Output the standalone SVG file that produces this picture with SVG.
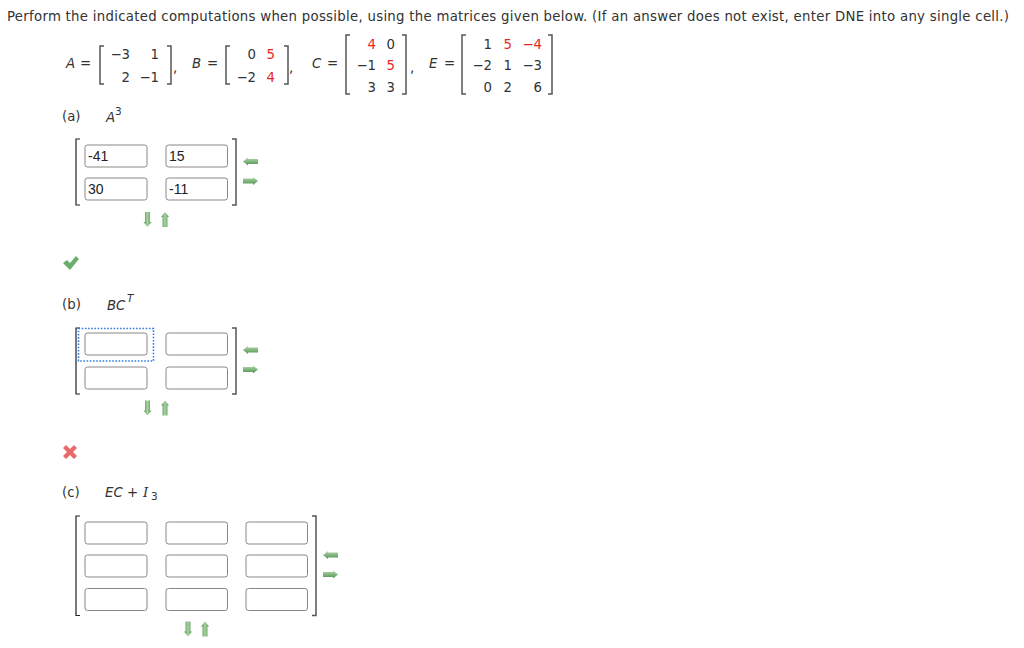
<svg xmlns="http://www.w3.org/2000/svg" width="1024" height="648" viewBox="0 0 1024 648">
<defs>
<linearGradient id="gh" x1="0" y1="0" x2="0" y2="1"><stop offset="0" stop-color="#b5dcae"/><stop offset="1" stop-color="#4f8f50"/></linearGradient>
<linearGradient id="gv" x1="0" y1="0" x2="1" y2="0"><stop offset="0" stop-color="#4f8f50"/><stop offset="0.5" stop-color="#a9d3a0"/><stop offset="1" stop-color="#4f8f50"/></linearGradient>
<path id="al" d="M0 0 L5 -4 L5 -2.500 L15 -2.500 L15 2.500 L5 2.500 L5 4 Z" fill="url(#gh)"/>
<path id="ar" d="M15 0 L10 -4 L10 -2.500 L0 -2.500 L0 2.500 L10 2.500 L10 4 Z" fill="url(#gh)"/>
<path id="ad" d="M0 7.500 L-4 2.500 L-2.500 2.500 L-2.500 -7.500 L2.500 -7.500 L2.500 2.500 L4 2.500 Z" fill="url(#gv)"/>
<path id="au" d="M0 -7.500 L-4 -2.500 L-2.500 -2.500 L-2.500 7.500 L2.500 7.500 L2.500 -2.500 L4 -2.500 Z" fill="url(#gv)"/>
</defs>
<style>
text{font-family:"DejaVu Sans",Verdana,sans-serif;font-size:13.3px;fill:#333}
.e{text-anchor:end}
.i{font-style:italic}
.r{fill:#e5281c}
.v{font-family:"Liberation Sans",Arial,sans-serif;font-size:14px;fill:#222}
.m{font-family:"DejaVu Serif",serif;font-style:italic}
.b{fill:none;stroke:#222;stroke-width:1.2}
.g{fill:none;stroke:#555;stroke-width:1.5}
.box{fill:#fff;stroke:#888;stroke-width:1}
</style>
<rect width="1024" height="648" fill="#fff"/>
<text id="prompt" x="7" y="21" textLength="1002" lengthAdjust="spacing">Perform the indicated computations when possible, using the matrices given below. (If an answer does not exist, enter DNE into any single cell.)</text>

<g id="matrix-A">
<text x="66" y="68" class="i">A</text><text x="80" y="68">=</text>
<path class="g" d="M104 46H100V84H104M167 46H171V84H167"/>
<text x="130" y="59" class="e">−3</text><text x="159" y="59" class="e">1</text>
<text x="130" y="82" class="e">2</text><text x="159" y="82" class="e">−1</text>
<text x="173" y="72">,</text>
</g>
<g id="matrix-B">
<text x="192" y="68" class="i">B</text><text x="207" y="68">=</text>
<path class="g" d="M230 46H226V84H230M284 46H288V84H284"/>
<text x="256" y="59" class="e">0</text><text x="275" y="59" class="e r">5</text>
<text x="256" y="82" class="e">−2</text><text x="275" y="82" class="e r">4</text>
<text x="289" y="72">,</text>
</g>
<g id="matrix-C">
<text x="312" y="68" class="i">C</text><text x="327" y="68">=</text>
<path class="g" d="M350 35H346V94H350M402 35H406V94H402"/>
<text x="376" y="49" class="e r">4</text><text x="395" y="49" class="e">0</text>
<text x="376" y="70" class="e">−1</text><text x="395" y="70" class="e r">5</text>
<text x="376" y="92" class="e">3</text><text x="395" y="92" class="e">3</text>
<text x="410" y="72">,</text>
</g>
<g id="matrix-E">
<text x="429" y="68" class="i">E</text><text x="444" y="68">=</text>
<path class="g" d="M466 35H462V94H466M548 35H552V94H548"/>
<text x="492" y="49" class="e">1</text><text x="512" y="49" class="e r">5</text><text x="542" y="49" class="e r">−4</text>
<text x="492" y="70" class="e">−2</text><text x="512" y="70" class="e">1</text><text x="542" y="70" class="e">−3</text>
<text x="492" y="92" class="e">0</text><text x="512" y="92" class="e">2</text><text x="542" y="92" class="e">6</text>
</g>

<g id="part-a">
<text x="62" y="121">(a)</text>
<text x="106" y="122" class="i">A</text><text x="115" y="115" style="font-size:10.5px">3</text>
<path class="b" d="M80 139H76V205H80"/><path class="g" d="M232 139H236V205H232"/>
<rect class="box" x="85" y="145" width="62" height="22" rx="2.5"/><rect class="box" x="166" y="145" width="61.500" height="22" rx="2.5"/>
<rect class="box" x="85" y="178" width="62" height="22" rx="2.5"/><rect class="box" x="166" y="178" width="61.500" height="22" rx="2.5"/>
<text class="v" x="88" y="161">-41</text><text class="v" x="169" y="161">15</text>
<text class="v" x="88" y="194">30</text><text class="v" x="169" y="194">-11</text>
<use href="#al" x="243" y="161.500"/><use href="#ar" x="243" y="181"/>
<use href="#ad" x="147.500" y="219.500"/><use href="#au" x="165" y="219.500"/>
<path id="check" d="M63 263L67 260L70 263L76 256L79 259L70 270Z" fill="#6cae6c"/>
</g>

<g id="part-b">
<text x="62" y="309">(b)</text>
<text x="107" y="310" class="i">BC</text><text x="127" y="302" class="i" style="font-size:10.5px">T</text>
<path class="b" d="M80 328H76V394H80"/><path class="g" d="M232 328H236V394H232"/>
<rect x="78.500" y="328.500" width="75" height="32.500" fill="none" stroke="#2f7fe0" stroke-width="1.600" stroke-dasharray="1.600 1.600"/>
<rect class="box" x="85" y="333" width="62" height="22" rx="2.5"/><rect class="box" x="166" y="333" width="61.500" height="22" rx="2.5"/>
<rect class="box" x="85" y="367" width="62" height="22" rx="2.5"/><rect class="box" x="166" y="367" width="61.500" height="22" rx="2.5"/>
<use href="#al" x="243" y="350"/><use href="#ar" x="243" y="369.500"/>
<use href="#ad" x="147.500" y="408"/><use href="#au" x="165" y="408"/>
<path id="cross" d="M66 445L70 449L74 445L77 448L73 452L77 456L74 459L70 455L66 459L63 456L67 452L63 448Z" fill="#e86a6a"/>
</g>

<g id="part-c">
<text x="62" y="497">(c)</text>
<text x="105" y="497" class="i">EC</text><text x="127" y="497">+</text><text x="143" y="497" class="m">I</text><text x="151" y="500" style="font-size:10.5px">3</text>
<path class="b" d="M80 516H76V615.500H80"/><path class="g" d="M312 516H316V615.500H312"/>
<rect class="box" x="85" y="522" width="62" height="22" rx="2.5"/><rect class="box" x="166" y="522" width="61.500" height="22" rx="2.5"/><rect class="box" x="246" y="522" width="61.500" height="22" rx="2.5"/>
<rect class="box" x="85" y="555" width="62" height="22" rx="2.5"/><rect class="box" x="166" y="555" width="61.500" height="22" rx="2.5"/><rect class="box" x="246" y="555" width="61.500" height="22" rx="2.5"/>
<rect class="box" x="85" y="588.500" width="62" height="22" rx="2.5"/><rect class="box" x="166" y="588.500" width="61.500" height="22" rx="2.5"/><rect class="box" x="246" y="588.500" width="61.500" height="22" rx="2.5"/>
<use href="#al" x="323" y="555"/><use href="#ar" x="323" y="574.500"/>
<use href="#ad" x="188" y="629"/><use href="#au" x="205" y="629"/>
</g>
</svg>
